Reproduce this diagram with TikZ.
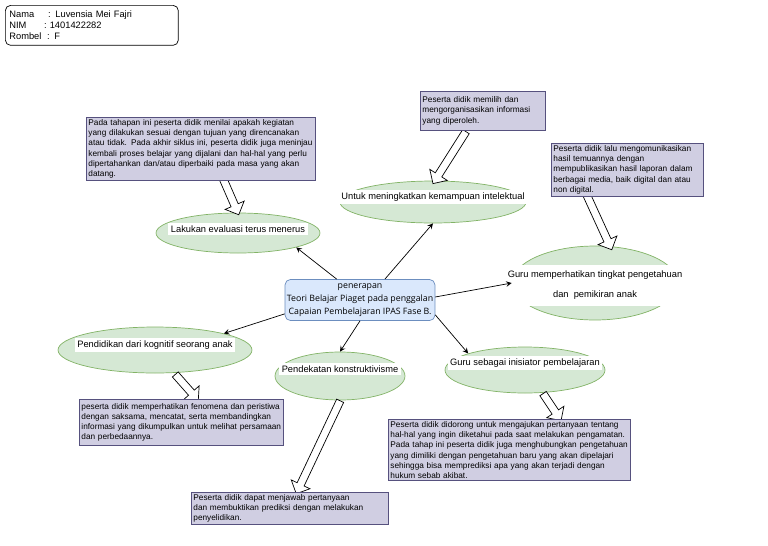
\documentclass[tikz,border=0pt]{standalone}
\usepackage{fontspec}
\setmainfont{Liberation Sans}
\newfontfamily\boxfont{Open Sans}
\usetikzlibrary{shapes.geometric,shapes.arrows,calc}
\definecolor{boxfill}{HTML}{D0CEE2}
\definecolor{boxline}{HTML}{56517E}
\definecolor{ellfill}{HTML}{D5E8D4}
\definecolor{ellline}{HTML}{82B366}
\definecolor{cfill}{HTML}{DAE8FC}
\definecolor{cline}{HTML}{6C8EBF}
\newcommand{\nohyph}{\hyphenpenalty=10000\relax\exhyphenpenalty=10000\relax}
\tikzset{
  x=0.02cm, y=-0.02cm,
  box/.style={draw=boxline, fill=boxfill, anchor=north west, inner sep=1.2pt,
    align=left, font=\fontsize{4.7}{5.8}\selectfont, execute at begin node=\nohyph},
  ell/.style={ellipse, draw=ellline, fill=ellfill, inner sep=0pt},
  lab/.style={fill=white, inner sep=1.5pt, font=\fontsize{5.3}{6.4}\selectfont},
  link/.style={->, >=stealth, thin},
  barrow/.style={single arrow, draw, fill=white, thin, inner sep=0pt,
    inner ysep=0.07cm, single arrow head extend=0.13cm},
}
\newcommand{\blockarrow}[2]{%
  \path let \p1=(#1), \p2=(#2), \n1={atan2(\y2-\y1,\x2-\x1)},
    \n2={veclen(\x2-\x1,\y2-\y1)} in
    node[barrow, rotate=\n1, minimum height=\n2] at ($(\p1)!0.5!(\p2)$) {};}
\begin{document}
\begin{tikzpicture}
\useasboundingbox (0,0) rectangle (768,545);

% identitas
\node[draw, rounded corners=3pt, anchor=north west, minimum width=3.46cm,
  minimum height=0.8cm, align=left, inner sep=2pt, text width=3.3cm,
  font=\fontsize{5.3}{6.4}\selectfont] (id) at (5,5)
  {Nama\hspace{1.5em}: Luvensia Mei Fajri\\NIM\hspace{1.9em}: 1401422282\\Rombel\hspace{0.6em}: F};

% pusat
\node[draw=cline, fill=cfill, rounded corners=3pt, minimum width=2.9cm,
  minimum height=0.82cm, align=center, inner sep=1pt,
  font=\boxfont\fontsize{5}{7.3}\selectfont] (c) at (360,300)
  {penerapan\\Teori Belajar Piaget pada penggalan\\Capaian Pembelajaran IPAS Fase B.};

% elips
\node[ell, minimum width=3.28cm, minimum height=0.8cm] (ev) at (238,233) {};
\node[lab] at (238,229) {Lakukan evaluasi terus menerus};
\node[ell, minimum width=3.72cm, minimum height=0.84cm] (in) at (433,202) {};
\node[lab] at (433,197) {Untuk meningkatkan kemampuan intelektual};
\node[ell, minimum width=3.32cm, minimum height=1.48cm] (gm) at (595,283) {};
\node[lab, minimum width=3.1cm, minimum height=0.82cm, align=center,
  font=\fontsize{5.3}{11}\selectfont] at (595,285)
  {Guru memperhatikan tingkat pengetahuan\\dan\ \ pemikiran anak};
\node[ell, minimum width=3.88cm, minimum height=0.92cm] (pk) at (155,350) {};
\node[lab] at (155,345) {Pendidikan dari kognitif seorang anak};
\node[ell, minimum width=2.6cm, minimum height=0.96cm] (ko) at (340,376) {};
\node[lab] at (340,369) {Pendekatan konstruktivisme};
\node[ell, minimum width=3.2cm, minimum height=0.92cm] (gs) at (525,370) {};
\node[lab] at (525,363) {Guru sebagai inisiator pembelajaran};

% panah blok
\coordinate (a1) at (218,167);  \coordinate (a2) at (238,213);
\coordinate (a3) at (467,130);  \coordinate (a4) at (434,182);
\coordinate (a5) at (584,189);  \coordinate (a6) at (611,248);
\coordinate (a7) at (174,373);  \coordinate (a8) at (197,399);
\coordinate (a9) at (341,399);  \coordinate (a10) at (297,492);
\coordinate (a11) at (542,392); \coordinate (a12) at (560,419);
\blockarrow{a1}{a2}
\blockarrow{a3}{a4}
\blockarrow{a5}{a6}
\blockarrow{a7}{a8}
\blockarrow{a9}{a10}
\blockarrow{a11}{a12}

% kotak keterangan
\node[box, minimum width=4.58cm, minimum height=1.06cm, text width=4.5cm] (b1) at (86,117)
  {Pada tahapan ini peserta didik menilai apakah kegiatan yang dilakukan sesuai dengan tujuan yang direncanakan atau tidak. Pada akhir siklus ini, peserta didik juga meninjau kembali proses belajar yang dijalani dan hal-hal yang perlu dipertahankan dan/atau diperbaiki pada masa yang akan datang.};
\node[box, minimum width=2.5cm, minimum height=0.78cm, text width=2.42cm] (b2) at (420,91)
  {Peserta didik memilih dan mengorganisasikan informasi yang diperoleh.};
\node[box, minimum width=3.04cm, minimum height=0.92cm, text width=2.96cm] (b3) at (551,143)
  {Peserta didik lalu mengomunikasikan hasil temuannya dengan mempublikasikan hasil laporan dalam berbagai media, baik digital dan atau non digital.};
\node[box, minimum width=4.08cm, minimum height=0.92cm, text width=4cm] (b4) at (79,399)
  {peserta didik memperhatikan fenomena dan peristiwa dengan saksama, mencatat, serta membandingkan informasi yang dikumpulkan untuk melihat persamaan dan perbedaannya.};
\node[box, minimum width=3.94cm, minimum height=0.62cm, text width=3.86cm] (b5) at (191,492)
  {Peserta didik dapat menjawab pertanyaan dan membuktikan prediksi dengan melakukan penyelidikan.};
\node[box, minimum width=4.84cm, minimum height=1.16cm, text width=4.76cm] (b6) at (388,419)
  {Peserta didik didorong untuk mengajukan pertanyaan tentang hal-hal yang ingin diketahui pada saat melakukan pengamatan. Pada tahap ini peserta didik juga menghubungkan pengetahuan yang dimiliki dengan pengetahuan baru yang akan dipelajari sehingga bisa memprediksi apa yang akan terjadi dengan hukum sebab akibat.};

% panah dari pusat
\draw[link] (c.north west) ++(52,0) -- (ev.south east);
\draw[link] (c) ++(25,-21) -- (in.south);
\draw[link] (c.east) ++(0,-3) -- (gm.west);
\draw[link] (c.south east) ++(0,-6) -- (gs.north west);
\draw[link] (c.south) -- (ko.north);
\draw[link] (c.south west) ++(0,-7) -- (pk.north east);
\end{tikzpicture}
\end{document}
